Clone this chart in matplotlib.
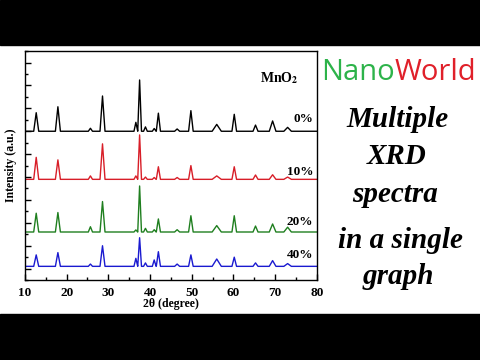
import matplotlib
matplotlib.use('Agg')
import matplotlib.pyplot as plt
from matplotlib.patches import Rectangle
from matplotlib.ticker import MultipleLocator

plt.rcParams['mathtext.fontset'] = 'stix'

# peak positions (2theta, degree) and half widths
peak_pos = [12.7, 17.9, 25.7, 28.6, 36.6, 37.5, 38.9, 41.0, 42.0, 46.5, 49.8, 56.0, 60.2, 65.3, 69.4, 73.0]
peak_hw = [0.6, 0.6, 0.5, 0.6, 0.45, 0.45, 0.45, 0.45, 0.5, 0.6, 0.55, 1.1, 0.55, 0.6, 0.8, 0.9]

# baselines (offset stacked) and peak tops for each sample
labels = ['0%', '10%', '20%', '40%']
colors = ['black', '#d81e28', '#1f7f1f', '#1a1ad0']
base = [6.0, 3.9, 1.6, 0.1]
tops_0 = [6.81, 7.07, 6.13, 7.54, 6.39, 8.24, 6.19, 6.12, 6.79, 6.10, 6.90, 6.30, 6.74, 6.27, 6.45, 6.17]
tops_10 = [4.86, 4.75, 4.05, 5.45, 4.05, 5.84, 4.00, 3.98, 4.45, 3.98, 4.50, 4.05, 4.45, 4.09, 4.10, 4.00]
tops_20 = [2.42, 2.45, 1.83, 2.93, 1.69, 3.61, 1.76, 1.70, 2.17, 1.70, 2.31, 1.88, 2.31, 1.86, 1.95, 1.81]
tops_40 = [0.60, 0.70, 0.20, 1.00, 0.45, 1.35, 0.25, 0.38, 0.74, 0.20, 0.60, 0.42, 0.50, 0.25, 0.35, 0.22]
tops = [tops_0, tops_10, tops_20, tops_40]
label_y = [6.54, 4.22, 2.04, 0.6]

fig = plt.figure(figsize=(4.8, 3.6), dpi=100)
ax = fig.add_axes([0.052, 0.222, 0.608, 0.636])

serif = 'Liberation Serif'
for b, t, c in zip(base, tops, colors):
    xs = [10]
    ys = [b]
    for p, w, h in zip(peak_pos, peak_hw, t):
        xs += [p - w, p, p + w]
        ys += [b, h, b]
    xs.append(80)
    ys.append(b)
    ax.plot(xs, ys, color=c, lw=1.0)

for lab, ly in zip(labels, label_y):
    ax.text(79.2, ly, lab, ha='right', va='center', fontsize=9.5,
            fontweight='bold', family=serif)
ax.text(71.1, 8.3, 'MnO$_\\mathbf{2}$', ha='center', va='center', fontsize=10,
        fontweight='bold', family=serif)

ax.set_xlim(10, 80)
ax.set_ylim(-0.5, 9.5)
ax.xaxis.set_major_locator(MultipleLocator(10))
ax.xaxis.set_minor_locator(MultipleLocator(5))
ax.yaxis.set_major_locator(MultipleLocator(1))
ax.yaxis.set_minor_locator(MultipleLocator(0.5))
ax.tick_params(which='both', direction='in', width=1)
ax.tick_params(which='major', length=4)
ax.tick_params(which='minor', length=2)
ax.tick_params(axis='x', pad=5)
ax.set_yticklabels([])
for lab in ax.get_xticklabels():
    lab.set_family(serif)
    lab.set_fontweight('bold')
    lab.set_fontsize(9.5)
for s in ax.spines.values():
    s.set_linewidth(1)
ax.set_xlabel('2θ (degree)', family=serif, fontweight='bold', fontsize=8.5, labelpad=-1)
ax.set_ylabel('Intensity (a.u.)', family=serif, fontweight='bold', fontsize=8.5, labelpad=2)

# right hand title text
fig.text(395 / 480, 0.80, 'Nano', color='#2db34a', ha='right', va='center',
         fontsize=21, family='Open Sans')
fig.text(395 / 480, 0.80, 'World', color='#e0202a', ha='left', va='center',
         fontsize=21, family='Open Sans')
lines = ['Multiple', 'XRD', 'spectra', 'in a single', 'graph']
line_y = [120, 157, 195, 240, 277]
line_x = [397, 397, 395, 400, 398]
for t, lx, ly in zip(lines, line_x, line_y):
    fig.text(lx / 480, 1 - ly / 360, t, ha='center', va='center', fontsize=21,
             fontweight='bold', fontstyle='italic', family=serif)

# letterbox bars
fig.patches.append(Rectangle((0, 0.875), 1, 0.125, transform=fig.transFigure,
                             color='black', zorder=0))
fig.patches.append(Rectangle((0, 0), 1, 0.128, transform=fig.transFigure,
                             color='black', zorder=0))

fig.savefig('out.png', dpi=100)
